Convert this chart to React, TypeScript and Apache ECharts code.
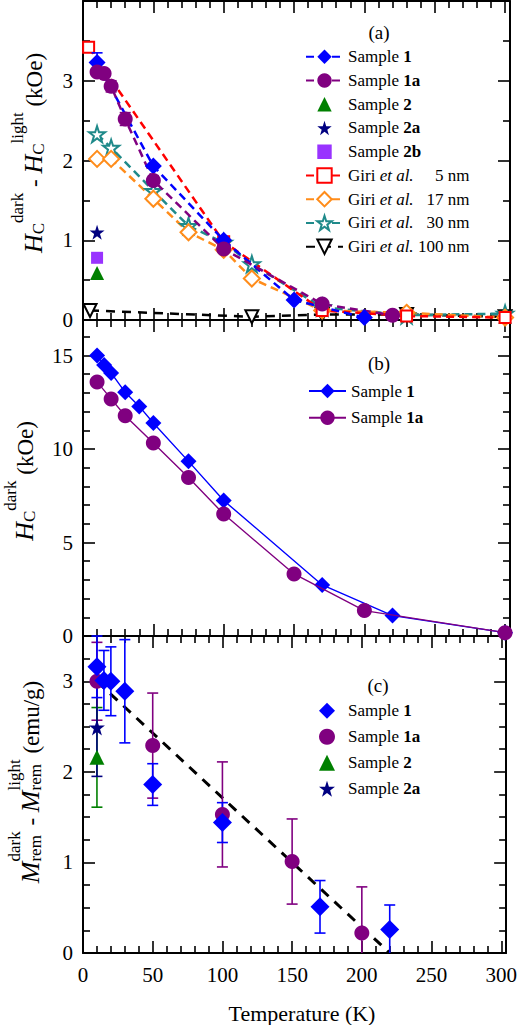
import React, { useEffect, useRef } from "react";
import * as echarts from "echarts";

const FONT = "Liberation Serif";

// ---------- axes ----------
const T_MAX = 303.5;
const T_MAJOR = [0, 50, 100, 150, 200, 250, 300];
const T_MINOR = [10, 20, 30, 40, 60, 70, 80, 90, 110, 120, 130, 140, 160, 170, 180, 190, 210, 220, 230, 240, 260, 270, 280, 290];

const A_MAX = 4;
const A_MAJOR = [0, 1, 2, 3];
const A_MINOR = [0.5, 1.5, 2.5, 3.5];

const B_MAX = 16.9;
const B_MAJOR = [0, 5, 10, 15];
const B_MINOR = [1, 2, 3, 4, 6, 7, 8, 9, 11, 12, 13, 14, 16];

const C_MAX = 3.5;
const C_MAJOR = [0, 1, 2, 3];
const C_MINOR = [0.25, 0.5, 0.75, 1.25, 1.5, 1.75, 2.25, 2.5, 2.75, 3.25];

// ---------- panel (a) ----------
const A_S1_T = [10, 50, 100, 150, 200];
const A_S1_V = [3.23, 1.93, 1.0, 0.25, 0.03];
const A_S1_E = [0.12, 0, 0, 0, 0];
const A_S1A_T = [10, 15, 20, 30, 50, 100, 170, 220];
const A_S1A_V = [3.11, 3.09, 2.93, 2.52, 1.75, 0.89, 0.2, 0.06];
const A_S1A_E = [0, 0.05, 0.07, 0.08, 0.06, 0, 0, 0];
const A_S2_T = [10];
const A_S2_V = [0.59];
const A_S2A_T = [10];
const A_S2A_V = [1.1];
const A_S2B_T = [10];
const A_S2B_V = [0.78];
const G5_T = [4, 100, 170, 230, 300];
const G5_V = [3.42, 0.98, 0.12, 0.05, 0.03];
const G17_T = [10, 20, 50, 75, 100, 120, 170, 230, 300];
const G17_V = [2.02, 2.02, 1.52, 1.1, 0.88, 0.52, 0.12, 0.09, 0.03];
const G30_T = [10, 20, 50, 75, 100, 120, 170, 230, 300];
const G30_V = [2.33, 2.16, 1.62, 1.18, 0.97, 0.7, 0.16, 0.06, 0.08];
const G100_T = [5, 120, 170, 230, 300];
const G100_V = [0.12, 0.04, 0.07, 0.07, 0.04];

// ---------- panel (b) ----------
const B_S1_T = [10, 15, 20, 30, 40, 50, 75, 100, 170, 220, 300];
const B_S1_V = [15.0, 14.5, 14.07, 13.03, 12.28, 11.39, 9.34, 7.25, 2.73, 1.09, 0.18];
const B_S1A_T = [10, 20, 30, 50, 75, 100, 150, 200, 300];
const B_S1A_V = [13.59, 12.68, 11.78, 10.32, 8.48, 6.52, 3.32, 1.36, 0.18];

// ---------- panel (c) ----------
const C_S1_T = [10, 15, 20, 30, 50, 100, 170, 220];
const C_S1_V = [3.16, 3.01, 3.0, 2.89, 1.86, 1.44, 0.51, 0.26];
const C_S1_E = [0.34, 0.33, 0.38, 0.57, 0.23, 0.22, 0.29, 0.27];
const C_S1A_T = [10, 50, 100, 150, 200];
const C_S1A_V = [3.0, 2.29, 1.53, 1.01, 0.22];
const C_S1A_E = [0.43, 0.58, 0.58, 0.47, 0.51];
const C_S2_T = [10];
const C_S2_V = [2.16];
const C_S2_E = [0.55];
const C_S2A_T = [10];
const C_S2A_V = [2.49];
const C_S2A_E = [0.54];
const C_FIT_T = [10, 220];
const C_FIT_V = [3.0, 0];

// ---------- styles ----------
const BLUE = "#0000ff";
const PURPLE = "#800080";
const GREEN = "#008000";
const NAVY = "#000080";
const VIOLET = "#9933ff";
const RED = "#ff0000";
const ORANGE = "#ff8c1a";
const TEAL = "#1f8a8a";
const STAR = "path://M50,0L61.8,35.1L98.9,35.1L69.1,56.7L80.3,91.9L50,70L19.7,91.9L30.9,56.7L1.1,35.1L38.2,35.1Z";

const SP = "\u2002"; // en space = one digit width
const LEGEND_LABELS: Record<string, string> = {
  "Sample 1": "Sample {b|1}",
  "Sample 1a": "Sample {b|1a}",
  "Sample 2": "Sample {b|2}",
  "Sample 2a": "Sample {b|2a}",
  "Sample 2b": "Sample {b|2b}",
  "Giri 5 nm": `Giri {i|et al.} ${SP}${SP}5 nm`,
  "Giri 17 nm": `Giri {i|et al.} ${SP}17 nm`,
  "Giri 30 nm": `Giri {i|et al.} ${SP}30 nm`,
  "Giri 100 nm": "Giri {i|et al.} 100 nm",
  "Sample 1 (b)": "Sample {b|1}",
  "Sample 1a (b)": "Sample {b|1a}",
  "Sample 1 (c)": "Sample {b|1}",
  "Sample 1a (c)": "Sample {b|1a}",
  "Sample 2 (c)": "Sample {b|2}",
  "Sample 2a (c)": "Sample {b|2a}",
};

const pairs = (t: number[], v: number[]) => t.map((x, i) => [x, v[i]]);

function errData(t: number[], v: number[], e: number[], ymin: number, ymax: number) {
  const out: number[][] = [];
  t.forEach((x, i) => {
    if (!e[i]) return;
    const lo = v[i] - e[i];
    const hi = v[i] + e[i];
    out.push([x, Math.max(lo, ymin), Math.min(hi, ymax), lo >= ymin ? 1 : 0, hi <= ymax ? 1 : 0]);
  });
  return out;
}

function errSeries(data: number[][], color: string, g: number, z: number) {
  return {
    type: "custom",
    xAxisIndex: g * 4,
    yAxisIndex: g * 4,
    data,
    z,
    silent: true,
    encode: { x: 0, y: [1, 2] },
    renderItem: (_p: any, api: any) => {
      const x = api.value(0);
      const pLo = api.coord([x, api.value(1)]);
      const pHi = api.coord([x, api.value(2)]);
      const hw = 5.5;
      const style = { stroke: color, lineWidth: 1.6 };
      const children: any[] = [
        { type: "line", shape: { x1: pLo[0], y1: pLo[1], x2: pHi[0], y2: pHi[1] }, style },
      ];
      if (api.value(3)) children.push({ type: "line", shape: { x1: pLo[0] - hw, y1: pLo[1], x2: pLo[0] + hw, y2: pLo[1] }, style });
      if (api.value(4)) children.push({ type: "line", shape: { x1: pHi[0] - hw, y1: pHi[1], x2: pHi[0] + hw, y2: pHi[1] }, style });
      return { type: "group", children };
    },
  };
}

function xAxis(g: number, pos: string, ticks: number[], len: number, line: boolean, labels?: number[]) {
  return {
    type: "value",
    gridIndex: g,
    position: pos,
    min: 0,
    max: T_MAX,
    interval: 50,
    axisLine: { show: line, onZero: false, lineStyle: { color: "#000", width: 2 } },
    axisTick: { show: true, inside: true, length: len, customValues: ticks, lineStyle: { color: "#000", width: 1.6 } },
    minorTick: { show: false },
    splitLine: { show: false },
    axisLabel: labels
      ? {
          show: true,
          customValues: labels,
          formatter: (v: number) => (labels.indexOf(v) >= 0 ? String(v) : ""),
          fontFamily: FONT,
          fontSize: 21,
          color: "#000",
          margin: 11,
        }
      : { show: false },
  };
}

function yAxis(g: number, pos: string, max: number, interval: number, ticks: number[], len: number, line: boolean, labels?: number[]) {
  return {
    type: "value",
    gridIndex: g,
    position: pos,
    min: 0,
    max,
    interval,
    axisLine: { show: line, onZero: false, lineStyle: { color: "#000", width: 2 } },
    axisTick: { show: true, inside: true, length: len, customValues: ticks, lineStyle: { color: "#000", width: 1.6 } },
    minorTick: { show: false },
    splitLine: { show: false },
    axisLabel: labels
      ? {
          show: true,
          customValues: labels,
          formatter: (v: number) => (labels.indexOf(v) >= 0 ? String(v) : ""),
          fontFamily: FONT,
          fontSize: 21,
          color: "#000",
          margin: 10,
        }
      : { show: false },
  };
}

type Tok = { text: string; size: number; italic?: boolean; shift?: number; stack?: boolean };

function titleGroup(tokens: Tok[], baseX: number, centerY: number) {
  const ctx = document.createElement("canvas").getContext("2d") as CanvasRenderingContext2D;
  let cursor = 0;
  let lastStart = 0;
  const placed: any[] = [];
  tokens.forEach((t) => {
    ctx.font = `${t.italic ? "italic " : ""}${t.size}px "${FONT}"`;
    const w = ctx.measureText(t.text).width;
    const start = t.stack ? lastStart : cursor;
    placed.push({ t, start });
    cursor = Math.max(cursor, start + w);
    lastStart = start;
  });
  const total = cursor;
  return {
    type: "group",
    x: baseX,
    y: centerY + total / 2,
    rotation: Math.PI / 2,
    children: placed.map((p) => ({
      type: "text",
      x: p.start,
      y: (p.t.shift || 0) - 0.31 * p.t.size,
      style: {
        text: p.t.text,
        fontFamily: FONT,
        fontSize: p.t.size,
        fontStyle: p.t.italic ? "italic" : "normal",
        fill: "#000",
        align: "left",
        verticalAlign: "middle",
      },
    })),
  };
}

function legendCfg(data: string[], left: number, top: number, gap: number, iw: number, ih: number) {
  const base = { fontFamily: FONT, fontSize: 17, color: "#000", lineHeight: 18 };
  return {
    data,
    orient: "vertical",
    left,
    top,
    itemGap: gap,
    itemWidth: iw,
    itemHeight: ih,
    padding: 0,
    selectedMode: false,
    formatter: (name: string) => LEGEND_LABELS[name] || name,
    textStyle: {
      ...base,
      rich: {
        b: { ...base, fontWeight: "bold" },
        i: { ...base, fontStyle: "italic" },
      },
    },
  };
}

function buildOption() {
  const xAxes: any[] = [];
  const yAxes: any[] = [];
  const yDefs = [
    { max: A_MAX, interval: 1, major: A_MAJOR, minor: A_MINOR },
    { max: B_MAX, interval: 5, major: B_MAJOR, minor: B_MINOR },
    { max: C_MAX, interval: 1, major: C_MAJOR, minor: C_MINOR },
  ];
  for (let g = 0; g < 3; g++) {
    xAxes.push(xAxis(g, "bottom", T_MAJOR, 12, true, g === 2 ? T_MAJOR : undefined));
    xAxes.push(xAxis(g, "top", T_MAJOR, 12, true));
    xAxes.push(xAxis(g, "bottom", T_MINOR, 7, false));
    xAxes.push(xAxis(g, "top", T_MINOR, 7, false));
    const d = yDefs[g];
    yAxes.push(yAxis(g, "left", d.max, d.interval, d.major, 12, true, d.major));
    yAxes.push(yAxis(g, "right", d.max, d.interval, d.major, 12, true));
    yAxes.push(yAxis(g, "left", d.max, d.interval, d.minor, 7, false));
    yAxes.push(yAxis(g, "right", d.max, d.interval, d.minor, 7, false));
  }

  const ax = (g: number) => ({ xAxisIndex: g * 4, yAxisIndex: g * 4 });
  const dashedLine = (name: string, t: number[], v: number[], color: string, symbol: string, size: number, open: boolean, z: number, extra: any = {}) => ({
    name,
    type: "line",
    ...ax(0),
    data: pairs(t, v),
    symbol,
    symbolSize: size,
    showSymbol: true,
    z,
    lineStyle: { color, width: 2.5, type: [8, 5] },
    itemStyle: open ? { color: "#fff", borderColor: color, borderWidth: 2 } : { color },
    ...extra,
  });
  // markers only (line series with an invisible line, so the legend icon keeps the symbol's shape)
  const markers = (name: string, g: number, t: number[], v: number[], color: string, symbol: string, size: number, z: number) => ({
    name,
    type: "line",
    ...ax(g),
    data: pairs(t, v),
    symbol,
    symbolSize: size,
    showSymbol: true,
    z,
    lineStyle: { width: 0, color, opacity: 0 },
    itemStyle: { color },
  });
  const solidLine = (name: string, t: number[], v: number[], color: string, symbol: string, size: number, z: number) => ({
    name,
    type: "line",
    ...ax(1),
    data: pairs(t, v),
    symbol,
    symbolSize: size,
    z,
    lineStyle: { color, width: 1.4 },
    itemStyle: { color },
  });

  const series: any[] = [
    // panel (a)
    dashedLine("Giri 100 nm", G100_T, G100_V, "#000", "triangle", 13, true, 2, { symbolRotate: 180, lineStyle: { color: "#000", width: 2.5, type: [9, 7] } }),
    dashedLine("Giri 30 nm", G30_T, G30_V, TEAL, STAR, 16, true, 2),
    dashedLine("Giri 17 nm", G17_T, G17_V, ORANGE, "diamond", 16, true, 2),
    dashedLine("Giri 5 nm", G5_T, G5_V, RED, "rect", 11, true, 2),
    errSeries(errData(A_S1_T, A_S1_V, A_S1_E, 0, A_MAX), BLUE, 0, 3),
    errSeries(errData(A_S1A_T, A_S1A_V, A_S1A_E, 0, A_MAX), PURPLE, 0, 3),
    dashedLine("Sample 1", A_S1_T, A_S1_V, BLUE, "diamond", 17, false, 4),
    dashedLine("Sample 1a", A_S1A_T, A_S1A_V, PURPLE, "circle", 15, false, 4),
    markers("Sample 2", 0, A_S2_T, A_S2_V, GREEN, "triangle", 14, 5),
    markers("Sample 2a", 0, A_S2A_T, A_S2A_V, NAVY, STAR, 15, 5),
    markers("Sample 2b", 0, A_S2B_T, A_S2B_V, VIOLET, "rect", 12, 5),
    // panel (b)
    solidLine("Sample 1 (b)", B_S1_T, B_S1_V, BLUE, "diamond", 16, 3),
    solidLine("Sample 1a (b)", B_S1A_T, B_S1A_V, PURPLE, "circle", 15, 4),
    // panel (c)
    {
      name: "fit",
      type: "line",
      ...ax(2),
      data: pairs(C_FIT_T, C_FIT_V),
      symbol: "none",
      z: 2,
      lineStyle: { color: "#000", width: 3, type: [10, 8] },
    },
    errSeries(errData(C_S1A_T, C_S1A_V, C_S1A_E, 0, C_MAX), PURPLE, 2, 3),
    errSeries(errData(C_S2_T, C_S2_V, C_S2_E, 0, C_MAX), GREEN, 2, 3),
    errSeries(errData(C_S2A_T, C_S2A_V, C_S2A_E, 0, C_MAX), NAVY, 2, 3),
    errSeries(errData(C_S1_T, C_S1_V, C_S1_E, 0, C_MAX), BLUE, 2, 3),
    markers("Sample 1a (c)", 2, C_S1A_T, C_S1A_V, PURPLE, "circle", 15, 4),
    markers("Sample 1 (c)", 2, C_S1_T, C_S1_V, BLUE, "diamond", 19, 5),
    markers("Sample 2 (c)", 2, C_S2_T, C_S2_V, GREEN, "triangle", 15, 5),
    markers("Sample 2a (c)", 2, C_S2A_T, C_S2A_V, NAVY, STAR, 16, 5),
  ];

  const textEl = (text: string, x: number, y: number, size: number) => ({
    type: "text",
    x,
    y,
    style: { text, fontFamily: FONT, fontSize: size, fill: "#000", align: "center", verticalAlign: "middle" },
  });

  const graphic = [
    textEl("(a)", 379, 32, 19),
    textEl("(b)", 379, 363, 19),
    textEl("(c)", 378, 685, 19),
    textEl("Temperature (K)", 302, 1013, 22),
    titleGroup(
      [
        { text: "H", size: 26, italic: true },
        { text: "C", size: 17, shift: 2 },
        { text: "dark", size: 17, shift: -19 },
        { text: " - ", size: 23 },
        { text: "H", size: 26, italic: true },
        { text: "C", size: 17, shift: 2 },
        { text: "light", size: 17, shift: -19 },
        { text: " (kOe)", size: 23 },
      ],
      42,
      153
    ),
    titleGroup(
      [
        { text: "H", size: 26, italic: true },
        { text: "C", size: 17, shift: 2 },
        { text: "dark", size: 17, shift: -17 },
        { text: " (kOe)", size: 23 },
      ],
      33,
      481
    ),
    titleGroup(
      [
        { text: "M", size: 26, italic: true },
        { text: "rem", size: 17, shift: 2 },
        { text: "dark", size: 17, shift: -19, stack: true },
        { text: " - ", size: 23 },
        { text: "M", size: 26, italic: true },
        { text: "rem", size: 17, shift: 2 },
        { text: "light", size: 17, shift: -19, stack: true },
        { text: " (emu/g)", size: 23 },
      ],
      39,
      782
    ),
  ];

  return {
    animation: false,
    backgroundColor: "#fff",
    grid: [
      { left: 83, top: 1, width: 427, height: 319 },
      { left: 83, top: 320, width: 427, height: 316 },
      { left: 83, top: 636, width: 427, height: 317 },
    ],
    xAxis: xAxes,
    yAxis: yAxes,
    legend: [
      legendCfg(
        ["Sample 1", "Sample 1a", "Sample 2", "Sample 2a", "Sample 2b", "Giri 5 nm", "Giri 17 nm", "Giri 30 nm", "Giri 100 nm"],
        305,
        47.7,
        5.75,
        37,
        18
      ),
      legendCfg(["Sample 1 (b)", "Sample 1a (b)"], 308, 382, 8.7, 37, 18),
      legendCfg(["Sample 1 (c)", "Sample 1a (c)", "Sample 2 (c)", "Sample 2a (c)"], 311, 701.7, 8, 32, 20),
    ],
    series,
    graphic: { elements: graphic },
  };
}

export default function App() {
  const ref = useRef<HTMLDivElement>(null);
  useEffect(() => {
    const chart = echarts.init(ref.current as HTMLDivElement, null, { renderer: "svg" });
    chart.setOption(buildOption() as any);
    return () => chart.dispose();
  }, []);
  return (
    <div
      ref={ref}
      style={{ position: "absolute", left: 0, top: 0, width: 520, height: 1025, background: "#fff" }}
    />
  );
}
